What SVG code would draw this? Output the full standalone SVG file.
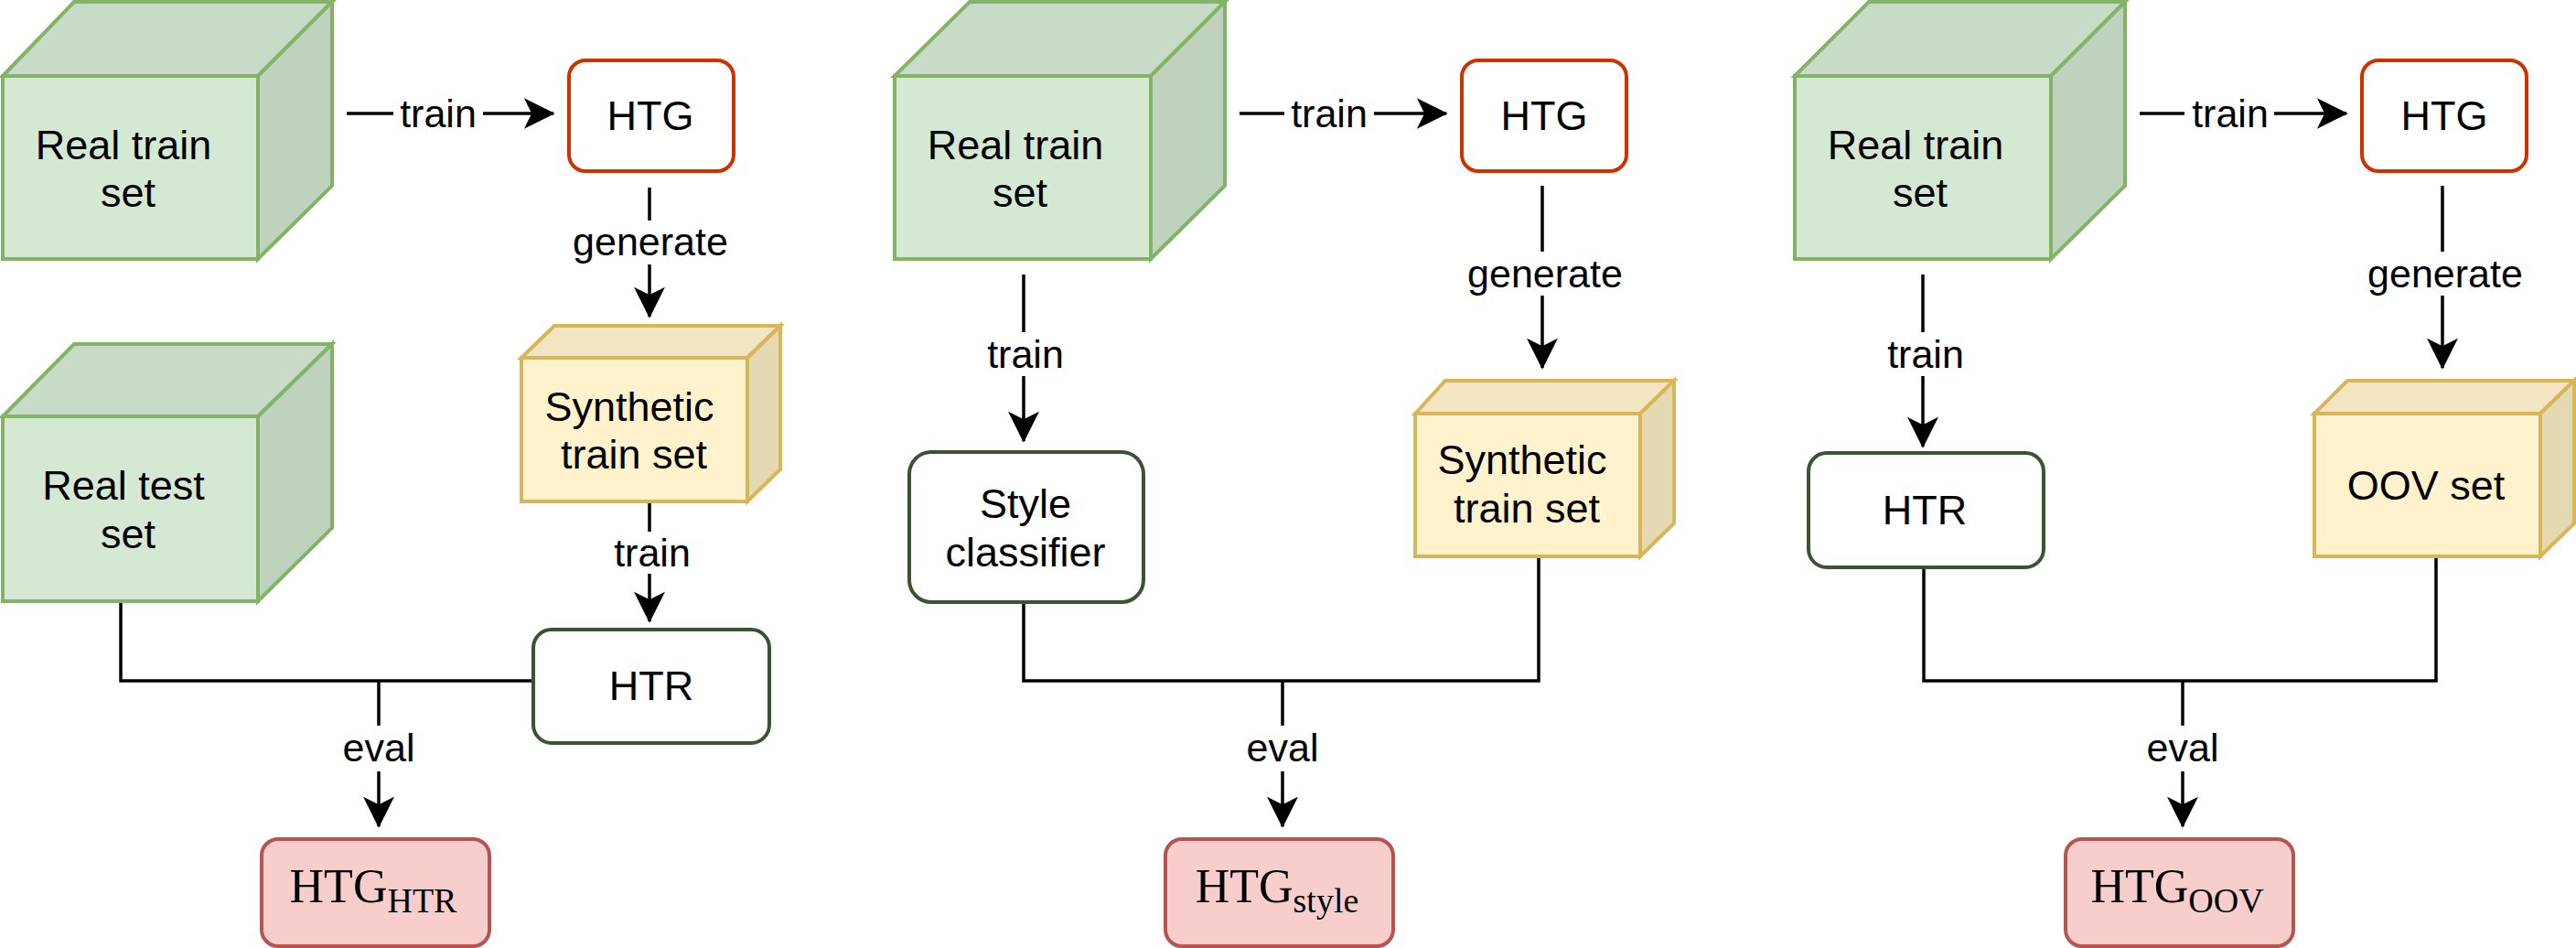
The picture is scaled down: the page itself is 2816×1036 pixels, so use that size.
<svg xmlns="http://www.w3.org/2000/svg" width="2816" height="1036" viewBox="0 0 2816 1036">
<style>
.t{font-family:"Liberation Sans",Arial,sans-serif;font-size:45px;fill:#000;text-anchor:middle}
.l{font-family:"Liberation Sans",Arial,sans-serif;font-size:43px;fill:#000;text-anchor:middle}
.s{font-family:"Liberation Serif","Times New Roman",serif;font-size:52px;fill:#000;text-anchor:middle}
.gf{fill:#d5e8d4;stroke:#82b366;stroke-width:4}
.gt{fill:#c8dbc7;stroke:#82b366;stroke-width:4}
.gr{fill:#bed2bd;stroke:#82b366;stroke-width:4}
.yf{fill:#fff2cc;stroke:#d6b656;stroke-width:4}
.yt{fill:#f3e5c1;stroke:#d6b656;stroke-width:4}
.yr{fill:#e5d9b4;stroke:#d6b656;stroke-width:4}
.htg{fill:#fff;stroke:#cc3300;stroke-width:4}
.htr{fill:#fff;stroke:#3a5431;stroke-width:4}
.res{fill:#f8cecc;stroke:#b85450;stroke-width:4}
.c{fill:none;stroke:#000;stroke-width:3.5}
.bg{fill:#fff}
</style>
<defs>
<marker id="ar" viewBox="0 0 20 20" refX="19" refY="10" markerWidth="34" markerHeight="34" markerUnits="userSpaceOnUse" orient="auto">
<path d="M0,0 L20,10 L0,20 L5,10 Z" fill="#000"/>
</marker>
</defs>
<g id="connectors">
<path class="c" d="M379,124 H605" marker-end="url(#ar)"/>
<rect class="bg" x="430" y="97" width="98" height="52"/><text class="l" x="479" y="139">train</text>
<path class="c" d="M710,205 V346" marker-end="url(#ar)"/>
<rect class="bg" x="620" y="241" width="180" height="48"/><text class="l" x="711" y="279">generate</text>
<path class="c" d="M710,548 V679" marker-end="url(#ar)"/>
<rect class="bg" x="662" y="581" width="98" height="46"/><text class="l" x="713" y="619">train</text>
<path class="c" d="M132,657 V744 H583"/>
<path class="c" d="M414,744 V903" marker-end="url(#ar)"/>
<rect class="bg" x="370" y="793" width="88" height="50"/><text class="l" x="414" y="832">eval</text>

<path class="c" d="M1355,124 H1581" marker-end="url(#ar)"/>
<rect class="bg" x="1404" y="97" width="98" height="52"/><text class="l" x="1453" y="139">train</text>
<path class="c" d="M1686,203 V402" marker-end="url(#ar)"/>
<rect class="bg" x="1596" y="275" width="180" height="48"/><text class="l" x="1689" y="314">generate</text>
<path class="c" d="M1119,300 V482" marker-end="url(#ar)"/>
<rect class="bg" x="1070" y="363" width="98" height="48"/><text class="l" x="1121" y="402">train</text>
<path class="c" d="M1119,658 V744 H1682 V608"/>
<path class="c" d="M1402,744 V903" marker-end="url(#ar)"/>
<rect class="bg" x="1358" y="793" width="88" height="50"/><text class="l" x="1402" y="832">eval</text>

<path class="c" d="M2339,124 H2565" marker-end="url(#ar)"/>
<rect class="bg" x="2388" y="97" width="98" height="52"/><text class="l" x="2438" y="139">train</text>
<path class="c" d="M2670,203 V402" marker-end="url(#ar)"/>
<rect class="bg" x="2580" y="275" width="180" height="48"/><text class="l" x="2673" y="314">generate</text>
<path class="c" d="M2102,300 V488" marker-end="url(#ar)"/>
<rect class="bg" x="2053" y="363" width="98" height="48"/><text class="l" x="2105" y="402">train</text>
<path class="c" d="M2103,620 V744 H2663 V608"/>
<path class="c" d="M2386,744 V903" marker-end="url(#ar)"/>
<rect class="bg" x="2342" y="793" width="88" height="50"/><text class="l" x="2386" y="832">eval</text>
</g>

<g id="realtrain1">
<rect class="gf" x="3" y="83" width="279" height="200"/>
<polygon class="gt" points="3,83 81,2 363,2 282,83"/>
<polygon class="gr" points="282,83 363,2 363,203 282,283"/>
<text class="t" x="135" y="174">Real train</text><text class="t" x="140" y="226">set</text>
</g>
<g id="realtest1">
<rect class="gf" x="3" y="455" width="279" height="202"/>
<polygon class="gt" points="3,455 81,376 363,376 282,455"/>
<polygon class="gr" points="282,455 363,376 363,577 282,657"/>
<text class="t" x="135" y="546">Real test</text><text class="t" x="140" y="599">set</text>
</g>
<g id="htg1"><rect class="htg" x="622" y="66" width="180" height="121" rx="18"/><text class="t" x="711" y="142">HTG</text></g>
<g id="synth1">
<rect class="yf" x="570" y="391" width="247" height="157"/>
<polygon class="yt" points="570,391 606,356 853,356 817,391"/>
<polygon class="yr" points="817,391 853,356 853,513 817,548"/>
<text class="t" x="688" y="460">Synthetic</text><text class="t" x="693" y="512">train set</text>
</g>
<g id="htr1"><rect class="htr" x="583" y="688" width="258" height="124" rx="20"/><text class="t" x="712" y="765">HTR</text></g>
<g id="res1"><rect class="res" x="286" y="917" width="249" height="117" rx="18"/><text class="s" x="408" y="986">HTG<tspan font-size="38" dy="11">HTR</tspan></text></g>

<g id="realtrain2">
<rect class="gf" x="978" y="83" width="280" height="200"/>
<polygon class="gt" points="978,83 1060,2 1339,2 1258,83"/>
<polygon class="gr" points="1258,83 1339,2 1339,203 1258,283"/>
<text class="t" x="1110" y="174">Real train</text><text class="t" x="1115" y="226">set</text>
</g>
<g id="htg2"><rect class="htg" x="1598" y="66" width="180" height="121" rx="18"/><text class="t" x="1688" y="142">HTG</text></g>
<g id="style2"><rect class="htr" x="994" y="494" width="256" height="164" rx="24"/><text class="t" x="1121" y="566">Style</text><text class="t" x="1121" y="619">classifier</text></g>
<g id="synth2">
<rect class="yf" x="1547" y="452" width="246" height="156"/>
<polygon class="yt" points="1547,452 1580,416 1830,416 1793,452"/>
<polygon class="yr" points="1793,452 1830,416 1830,572 1793,608"/>
<text class="t" x="1664" y="518">Synthetic</text><text class="t" x="1669" y="571">train set</text>
</g>
<g id="res2"><rect class="res" x="1274" y="917" width="249" height="117" rx="18"/><text class="s" x="1396" y="986">HTG<tspan font-size="38" dy="11">style</tspan></text></g>

<g id="realtrain3">
<rect class="gf" x="1962" y="83" width="280" height="200"/>
<polygon class="gt" points="1962,83 2043,2 2323,2 2242,83"/>
<polygon class="gr" points="2242,83 2323,2 2323,203 2242,283"/>
<text class="t" x="2094" y="174">Real train</text><text class="t" x="2099" y="226">set</text>
</g>
<g id="htg3"><rect class="htg" x="2582" y="66" width="180" height="121" rx="18"/><text class="t" x="2672" y="142">HTG</text></g>
<g id="htr3"><rect class="htr" x="1977" y="495" width="257" height="125" rx="20"/><text class="t" x="2104" y="573">HTR</text></g>
<g id="oov3">
<rect class="yf" x="2530" y="452" width="247" height="156"/>
<polygon class="yt" points="2530,452 2566,416 2814,416 2777,452"/>
<polygon class="yr" points="2777,452 2814,416 2814,572 2777,608"/>
<text class="t" x="2652" y="546">OOV set</text>
</g>
<g id="res3"><rect class="res" x="2258" y="917" width="249" height="117" rx="18"/><text class="s" x="2380" y="986">HTG<tspan font-size="38" dy="11">OOV</tspan></text></g>
</svg>
